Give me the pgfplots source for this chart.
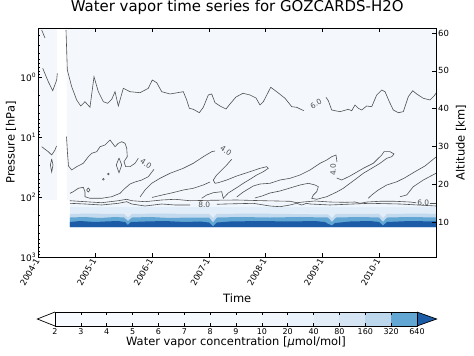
\documentclass[border=0pt]{standalone}
\usepackage{fontspec}
\setmainfont{DejaVu Sans}
\usepackage{pgfplots}
\pgfplotsset{compat=1.18}
\definecolor{cbg}{HTML}{F4F8FD}
\definecolor{cl0}{HTML}{EEF5FC}
\definecolor{cl1}{HTML}{E1EDF8}
\definecolor{cl2}{HTML}{C2D9EE}
\definecolor{cl3}{HTML}{62A6D4}
\definecolor{cl4}{HTML}{1C5CA6}
\definecolor{k0}{HTML}{F7FBFF}
\definecolor{k1}{HTML}{F6FAFF}
\definecolor{k2}{HTML}{F4F9FE}
\definecolor{k3}{HTML}{F0F6FC}
\definecolor{k4}{HTML}{EAF2FB}
\definecolor{k5}{HTML}{E2EDF8}
\definecolor{k6}{HTML}{D5E5F4}
\definecolor{k7}{HTML}{BDD7EC}
\definecolor{k8}{HTML}{62A6D4}
\definecolor{linec}{HTML}{505050}
\pgfplotsset{cl/.style={draw=linec, line width=0.6bp, mark=none}}
\tikzset{lbl/.style={font=\fontsize{7.5}{8}\selectfont, text=linec, inner sep=0.5bp}}
\begin{document}
\begin{tikzpicture}[x=1bp,y=1bp]
\path[use as bounding box] (0,0) rectangle (474,355);
% ---------------- main axis ----------------
\begin{axis}[
  at={(38.4bp,98bp)}, anchor=south west, scale only axis,
  width=397.6bp, height=229bp,
  xmin=2004, xmax=2011,
  ymode=log, y dir=reverse, ymin=0.1526, ymax=1000,
  axis on top,
  axis line style={black, line width=0.7bp},
  tick align=inside, major tick length=4bp, minor tick length=2bp,
  tick style={black, line width=0.5bp},
  xtick={2004,2005,2006,2007,2008,2009,2010},
  xticklabels={2004-1,2005-1,2006-1,2007-1,2008-1,2009-1,2010-1},
  xtick pos=both,
  xticklabel style={font=\fontsize{8.5}{9}\selectfont, rotate=60, anchor=east, inner sep=2bp},
  ytick={1,10,100,1000},
  yticklabels={10\textsuperscript{0},10\textsuperscript{1},10\textsuperscript{2},10\textsuperscript{3}},
  minor ytick={0.2,0.3,0.4,0.5,0.6,0.7,0.8,0.9,2,3,4,5,6,7,8,9,20,30,40,50,60,70,80,90,200,300,400,500,600,700,800,900},
  ytick pos=left,
  yticklabel style={font=\fontsize{9}{10}\selectfont, inner sep=2bp},
  xlabel={Time},
  xlabel style={at={(axis description cs:0.5,-0.179)}, anchor=center, font=\fontsize{11.5}{13}\selectfont},
  ylabel={Pressure [hPa]},
  ylabel style={at={(axis description cs:-0.069,0.5)}, anchor=center, font=\fontsize{11.5}{13}\selectfont},
  title={Water vapor time series for GOZCARDS-H2O},
  title style={at={(0.5,1)}, anchor=south, yshift=4bp, font=\fontsize{15}{17}\selectfont},
]
% data regions (stratospheric background)
\addplot[fill=cbg, draw=none] coordinates {(2004,0.15)(2004.33,0.15)(2004.33,112.2)(2004,112.2)};
\addplot[fill=cbg, draw=none] coordinates {(2004.50,0.15)(2011,0.15)(2011,316.2)(2004.556,316.2)(2004.556,112.2)(2004.50,112.2)};
% filled bands near the tropopause
\addplot[fill=cl0, draw=none] coordinates {(2004.556,125.9)(2011,125.9)(2011,316.2)(2004.556,316.2)};
\addplot[fill=cl1, draw=none] coordinates {(2004.556,146.8)(2011,146.8)(2011,316.2)(2004.556,316.2)};
\addplot[fill=cl2, draw=none] coordinates {(2004.556,192.0)(2004.908,188.4)(2005.261,192.0)(2005.507,192.0)(2005.577,219.7)(2005.648,192.0)(2006.141,188.4)(2006.669,192.0)(2007.004,192.0)(2007.074,223.9)(2007.144,192.0)(2007.725,188.4)(2008.430,192.0)(2009.099,195.7)(2009.169,223.9)(2009.239,192.0)(2009.662,192.0)(2009.997,192.0)(2010.067,223.9)(2010.137,192.0)(2010.718,188.4)(2011,192.0)(2011,316.2)(2004.556,316.2)};
\addplot[fill=cl3, draw=none] coordinates {(2004.556,219.7)(2004.820,215.4)(2005.085,223.9)(2005.349,215.4)(2005.507,219.7)(2005.577,251.2)(2005.648,219.7)(2005.965,215.4)(2006.317,223.9)(2006.669,219.7)(2007.004,219.7)(2007.074,266.1)(2007.144,219.7)(2007.549,215.4)(2008.077,219.7)(2008.606,215.4)(2009.099,219.7)(2009.169,261.0)(2009.239,219.7)(2009.662,215.4)(2009.997,219.7)(2010.067,261.0)(2010.137,219.7)(2010.542,215.4)(2011,219.7)(2011,316.2)(2004.556,316.2)};
\addplot[fill=cl4, draw=none] coordinates {(2004.556,261.0)(2004.732,251.2)(2004.996,261.0)(2005.173,256.0)(2005.401,251.2)(2005.525,261.0)(2005.577,292.9)(2005.630,261.0)(2005.877,256.0)(2006.229,251.2)(2006.581,261.0)(2006.845,256.0)(2007.004,266.1)(2007.074,310.0)(2007.144,266.1)(2007.373,256.0)(2007.901,251.2)(2008.430,256.0)(2008.870,251.2)(2009.046,261.0)(2009.099,280.0)(2009.169,298.5)(2009.221,271.3)(2009.486,256.0)(2009.838,251.2)(2009.997,261.0)(2010.067,298.5)(2010.137,261.0)(2010.542,251.2)(2011,256.0)(2011,316.2)(2004.556,316.2)};
% ---------------- contour lines ----------------
% 6.0 contour, upper stratosphere
\addplot[cl] coordinates {(2004.486,0.1647)(2004.509,0.7647)(2004.586,1.451)(2004.674,2.417)(2004.745,3.043)(2004.820,2.580)(2004.908,3.199)(2004.979,0.9886)(2005.055,1.758)(2005.143,2.580)(2005.220,2.744)(2005.291,2.353)(2005.349,1.758)(2005.407,3.043)(2005.495,1.543)(2005.613,1.758)(2005.789,1.827)(2005.935,1.543)(2006.005,1.122)(2006.083,1.245)(2006.171,1.758)(2006.317,1.920)(2006.551,1.758)(2006.611,2.417)(2006.657,3.325)(2006.727,3.455)(2006.833,3.936)(2006.903,3.199)(2006.991,1.995)(2007.051,1.920)(2007.109,2.682)(2007.197,3.043)(2007.303,3.415)(2007.373,2.818)(2007.479,2.154)(2007.602,1.869)(2007.725,1.995)(2007.831,2.239)(2007.901,2.929)(2007.960,2.580)(2008.090,1.485)(2008.195,1.758)(2008.342,2.265)(2008.460,3.126)(2008.548,3.199)(2008.618,3.455)(2008.676,3.645)};
\addplot[cl] coordinates {(2009.063,2.180)(2009.104,2.483)(2009.164,3.548)(2009.310,3.786)(2009.456,3.455)(2009.516,3.645)(2009.574,2.929)(2009.632,3.325)(2009.692,3.548)(2009.780,3.043)(2009.868,3.126)(2009.956,1.995)(2010.044,1.647)(2010.102,1.758)(2010.178,2.580)(2010.248,3.548)(2010.336,3.936)(2010.424,3.786)(2010.512,2.130)(2010.590,1.692)(2010.660,1.920)(2010.776,2.265)(2010.894,2.417)(2010.965,2.073)(2011.0,1.869)};
\node[lbl, rotate=31] at (axis cs:2008.887,2.818) {6.0};
% first short record
\addplot[cl] coordinates {(2004.058,0.1647)(2004.116,0.2239)};
\addplot[cl] coordinates {(2004.076,0.7161)(2004.174,1.198)(2004.252,1.692)(2004.322,1.122)(2004.333,0.868)};
\addplot[cl] coordinates {(2004.058,14.51)(2004.174,17.58)(2004.234,19.95)(2004.292,16.47)(2004.319,14.13)};
\addplot[cl] coordinates {(2004.234,23.26)(2004.257,29.29)(2004.234,38.31)(2004.211,29.29)(2004.234,23.26)};
% 4.0 tongues
\addplot[cl] coordinates {(2004.495,9.886)(2004.512,18.48)(2004.530,30.43)(2004.586,35.48)(2004.674,31.26)(2004.790,27.44)(2004.879,21.30)(2004.938,18.69)(2005.026,17.58)(2005.085,14.51)(2005.173,13.59)(2005.261,11.22)(2005.349,14.51)(2005.407,12.74)(2005.467,11.98)(2005.525,12.74)(2005.555,15.43)(2005.565,21.30)(2005.507,25.80)(2005.537,31.26)(2005.613,31.26)(2005.701,27.44)(2005.759,22.65)};
\node[lbl, rotate=-35] at (axis cs:2005.894,27.97) {4.0};
\addplot[cl] coordinates {(2006.035,34.54)(2005.935,45.88)(2005.819,52.10)(2005.701,56.23)(2005.613,60.74)(2005.525,71.61)(2005.437,86.77)(2005.291,98.86)(2005.114,105.1)(2004.908,105.1)(2004.820,98.86)(2004.820,81.59)(2004.790,68.9)(2004.702,71.61)(2004.614,81.59)(2004.556,86.77)};
\addplot[cl] coordinates {(2004.847,76.42)(2004.879,70.79)(2004.908,76.42)(2004.879,82.54)(2004.847,76.42)};
\addplot[cl, only marks, mark=o, mark size=0.9bp, mark options={draw=linec, line width=0.5bp}] coordinates {(2005.143,50.7)(2005.231,41.38)};
\addplot[cl] coordinates {(2005.419,22.39)(2005.467,29.29)(2005.419,39.36)(2005.371,29.29)(2005.419,22.39)};
\addplot[cl] coordinates {(2005.789,100)(2005.877,76.42)(2005.995,59.11)(2006.141,48.79)(2006.317,40.27)(2006.551,33.25)(2006.727,27.44)(2006.903,21.30)(2007.051,17.58)(2007.109,17.11)};
\node[lbl, rotate=-35] at (axis cs:2007.303,17.11) {4.0};
\addplot[cl] coordinates {(2007.403,23.53)(2007.315,29.29)(2007.227,35.48)(2007.139,42.99)(2007.079,52.10)(2007.109,59.11)(2007.167,57.77)(2007.315,52.10)(2007.491,44.67)(2007.725,37.87)(2007.901,33.25)(2008.019,31.26)(2008.048,33.25)(2007.960,37.87)(2007.843,42.99)(2007.725,50.70)(2007.607,59.11)(2007.519,67.34)(2007.426,76.42)(2007.343,85.77)(2007.255,105.1)(2007.227,81.59)(2007.079,84.78)(2006.963,92.62)(2006.875,105.1)};
\addplot[cl] coordinates {(2007.021,56.23)(2006.903,63.10)(2006.727,71.61)(2006.551,76.42)(2006.435,81.59)(2006.317,86.77)(2006.141,94.41)(2006.000,101.9)};
\addplot[cl] coordinates {(2007.491,100)(2007.607,82.54)(2007.783,65.57)(2007.901,60.74)(2008.077,59.11)(2008.254,52.10)(2008.430,48.79)(2008.606,42.99)(2008.782,35.48)(2008.958,27.44)(2009.076,24.17)(2009.164,21.30)(2009.239,19.95)(2009.257,26.10)};
\node[lbl, rotate=90] at (axis cs:2009.187,35.48) {4.0};
\addplot[cl] coordinates {(2009.252,48.23)(2009.340,52.10)(2009.486,44.67)(2009.720,33.25)(2009.896,27.44)(2010.044,19.95)(2010.085,17.58)(2010.190,17.58)(2010.261,19.20)(2010.220,21.30)(2010.132,22.65)(2010.014,27.44)(2009.868,33.25)(2009.720,40.27)(2009.604,48.79)(2009.486,59.11)(2009.368,71.61)(2009.252,82.54)(2009.076,98.86)(2008.900,109.2)(2008.812,105.1)(2008.840,92.62)(2008.900,81.59)(2008.928,67.34)(2008.870,63.10)(2008.752,59.11)(2008.606,63.10)(2008.430,70.79)(2008.254,79.43)(2008.077,85.77)(2007.937,96.23)(2007.813,103.9)};
\addplot[cl] coordinates {(2009.808,105.1)(2009.868,92.62)(2009.984,76.42)(2010.132,63.10)(2010.313,55.59)(2010.444,48.23)(2010.620,38.31)(2010.806,30.43)(2011.0,21.54)};
\addplot[cl] coordinates {(2010.366,98.86)(2010.484,92.62)(2010.600,67.34)(2010.776,52.10)(2011.0,40.27)};
% near-tropopause contours
\addplot[cl] coordinates {(2004.556,115.3)(2004.820,119.7)(2005.114,124.5)(2005.407,115.3)(2005.555,109.2)(2005.643,115.3)(2005.877,119.7)(2006.171,112.2)(2006.405,109.2)(2006.669,115.3)(2007.021,113.5)(2007.491,112.2)(2007.954,115.3)(2008.201,116.6)(2008.430,117.9)(2008.553,124.5)(2008.659,121.2)(2008.870,116.6)(2009.134,121.2)(2009.398,122.6)(2009.574,121.2)(2009.662,127.4)(2009.785,121.2)(2010.014,117.9)(2010.278,117.9)(2010.542,121.2)(2010.648,124.5)};
\addplot[cl] coordinates {(2010.894,125.9)(2011.0,125.9)};
\node[lbl] at (axis cs:2010.776,124.5) {6.0};
\addplot[cl] coordinates {(2004.556,127.4)(2004.820,130.8)(2005.114,135.9)(2005.407,127.4)(2005.555,119.7)(2005.643,130.8)(2005.877,141.3)(2006.171,130.8)(2006.405,135.9)(2006.669,135.9)};
\node[lbl] at (axis cs:2006.92,136) {8.0};
\addplot[cl] coordinates {(2007.144,132.3)(2007.285,130.8)(2007.783,127.4)(2008.077,141.3)(2008.254,145.1)(2008.430,135.9)(2008.548,127.4)(2008.636,135.9)(2008.724,127.4)(2008.782,130.8)(2009.134,135.9)(2009.539,130.8)(2009.838,127.4)(2010.366,130.8)(2011.0,141.3)};
\end{axis}
% ---------------- altitude axis ----------------
\begin{axis}[
  at={(38.4bp,98bp)}, anchor=south west, scale only axis,
  width=397.6bp, height=229bp,
  xmin=2004, xmax=2011, ymin=0.74, ymax=61.32,
  axis x line=none, axis y line*=right,
  axis line style={black, line width=0.7bp},
  tick align=inside, major tick length=4bp,
  tick style={black, line width=0.5bp},
  ytick={10,20,30,40,50,60},
  yticklabel style={font=\fontsize{8.5}{9}\selectfont, inner sep=2bp},
  /pgf/number format/assume math mode=true,
  ylabel={Altitude [km]},
  ylabel style={at={(axis description cs:1.063,0.5)}, anchor=center, font=\fontsize{11.5}{13}\selectfont},
]
\addplot[draw=none, forget plot] coordinates {(2004,10)(2011,60)};
\end{axis}
% ---------------- colour bar ----------------
\begin{axis}[
  at={(55bp,29bp)}, anchor=south west, scale only axis,
  width=362bp, height=14bp,
  xmin=0, xmax=14, ymin=0, ymax=1,
  clip=false, axis on top,
  axis line style={black, line width=0.7bp},
  ytick=\empty,
  xtick={0,1,2,3,4,5,6,7,8,9,10,11,12,13,14},
  xticklabels={2,3,4,5,6,7,8,9,10,20,40,80,160,320,640},
  xtick pos=both, tick align=inside, major tick length=3bp,
  tick style={black, line width=0.5bp},
  xticklabel style={font=\fontsize{8}{9}\selectfont, inner sep=2bp},
  xlabel={Water vapor concentration [\textit{μ}mol/mol]},
  xlabel style={at={(axis description cs:0.5,-1.14)}, anchor=center, font=\fontsize{11.5}{13}\selectfont},
]
\addplot[fill=k0, draw=none] coordinates {(0,0)(1,0)(1,1)(0,1)};
\addplot[fill=k0, draw=none] coordinates {(1,0)(2,0)(2,1)(1,1)};
\addplot[fill=k1, draw=none] coordinates {(2,0)(3,0)(3,1)(2,1)};
\addplot[fill=k1, draw=none] coordinates {(3,0)(4,0)(4,1)(3,1)};
\addplot[fill=k1, draw=none] coordinates {(4,0)(5,0)(5,1)(4,1)};
\addplot[fill=k2, draw=none] coordinates {(5,0)(6,0)(6,1)(5,1)};
\addplot[fill=k2, draw=none] coordinates {(6,0)(7,0)(7,1)(6,1)};
\addplot[fill=k2, draw=none] coordinates {(7,0)(8,0)(8,1)(7,1)};
\addplot[fill=k3, draw=none] coordinates {(8,0)(9,0)(9,1)(8,1)};
\addplot[fill=k4, draw=none] coordinates {(9,0)(10,0)(10,1)(9,1)};
\addplot[fill=k5, draw=none] coordinates {(10,0)(11,0)(11,1)(10,1)};
\addplot[fill=k6, draw=none] coordinates {(11,0)(12,0)(12,1)(11,1)};
\addplot[fill=k7, draw=none] coordinates {(12,0)(13,0)(13,1)(12,1)};
\addplot[fill=k8, draw=none] coordinates {(13,0)(14,0)(14,1)(13,1)};
\addplot[fill=white, draw=black, line width=0.7bp] coordinates {(0,0)(-0.684,0.5)(0,1)};
\addplot[fill=cl4, draw=black, line width=0.7bp] coordinates {(14,0)(14.76,0.5)(14,1)};
\end{axis}
\end{tikzpicture}
\end{document}
